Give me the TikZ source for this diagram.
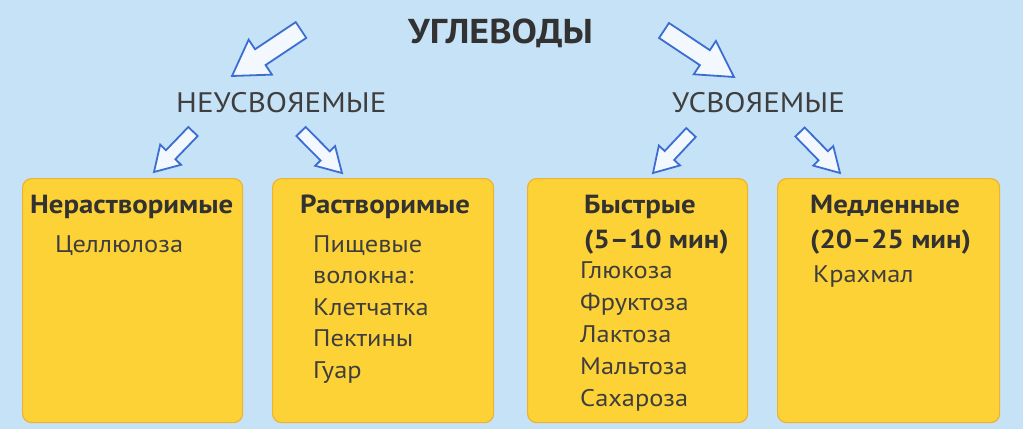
\documentclass[tikz,border=0pt]{standalone}
\usepackage{fontspec}
\setmainfont{PT Sans}[FakeStretch=1.1]
\usetikzlibrary{calc}
\definecolor{bgblue}{RGB}{198,226,247}
\definecolor{boxyel}{RGB}{253,210,55}
\definecolor{boxbrd}{RGB}{238,178,48}
\definecolor{arrblue}{RGB}{60,110,210}
\definecolor{arrfill}{RGB}{242,248,254}
\definecolor{txt}{RGB}{50,50,50}
\definecolor{txtl}{RGB}{62,62,62}
\newcommand\blockarrow[5]{%
  \coordinate (hb) at ($(#2)!#5!(#1)$);
  \draw[barrow] ($(#1)!#3!90:(#2)$) -- ($(hb)!#3!-90:(#1)$) -- ($(hb)!#4!-90:(#1)$) -- (#2)
     -- ($(hb)!#4!90:(#1)$) -- ($(hb)!#3!90:(#1)$) -- ($(#1)!#3!-90:(#2)$) -- cycle;}
\begin{document}
\begin{tikzpicture}[x=1pt,y=-1pt,
  barrow/.style={draw=arrblue,line width=1.8pt,fill=arrfill,line join=miter},
  ybox/.style={draw=boxbrd,line width=1.2pt,fill=boxyel,rounded corners=9pt,anchor=north west,minimum width=#1,minimum height=244pt,inner sep=0pt},
  ttl/.style={anchor=base west,inner sep=0pt,text=txt,font=\bfseries\fontsize{34.5}{40}\selectfont},
  sub/.style={anchor=base west,inner sep=0pt,text=txtl,font=\fontsize{28.2}{32}\selectfont},
  head/.style={anchor=base west,inner sep=0pt,text=txt,font=\bfseries\fontsize{26.2}{30}\selectfont},
  body/.style={anchor=base west,inner sep=0pt,text=txtl,font=\fontsize{24}{28}\selectfont}]
\useasboundingbox (0,0) rectangle (1023,429);
\fill[bgblue] (0,0) rectangle (1023,429);
% titles
\node[ttl] (title) at (408,43) {УГЛЕВОДЫ};
\node[sub] (neusv) at (176,112) {НЕУСВОЯЕМЫЕ};
\node[sub] (usv) at (672,112) {УСВОЯЕМЫЕ};
% boxes
\node[ybox=220pt] (box1) at (22,178) {};
\node[ybox=221pt] (box2) at (272,178) {};
\node[ybox=220pt] (box3) at (527,178) {};
\node[ybox=222pt] (box4) at (777,178) {};
% arrows
\coordinate (t1) at (301,30);  \coordinate (p1) at (232,76);
\coordinate (t2) at (664,30.5);\coordinate (p2) at (734,77);
\coordinate (t3) at (193,131.5);\coordinate (p3) at (154,172);
\coordinate (t4) at (301,131.5);\coordinate (p4) at (342,173);
\coordinate (t5) at (691,132.5);\coordinate (p5) at (653,173);
\coordinate (t6) at (800,132);\coordinate (p6) at (840,173);
\blockarrow{t1}{p1}{9.5pt}{21pt}{34pt}
\blockarrow{t2}{p2}{9pt}{20pt}{35pt}
\blockarrow{t3}{p3}{6.5pt}{14.5pt}{24pt}
\blockarrow{t4}{p4}{6.5pt}{14pt}{24pt}
\blockarrow{t5}{p5}{6.5pt}{14.5pt}{24pt}
\blockarrow{t6}{p6}{6.5pt}{14pt}{24pt}
% box 1
\node[head] (h1) at (30,213) {Нерастворимые};
\node[body] (b1a) at (55,252) {Целлюлоза};
% box 2
\node[head] (h2) at (300,213) {Растворимые};
\node[body] (b2a) at (313,252) {Пищевые};
\node[body] (b2b) at (313,283.5) {волокна:};
\node[body] (b2c) at (313,315) {Клетчатка};
\node[body] (b2d) at (313,346.5) {Пектины};
\node[body] (b2e) at (313,378) {Гуар};
% box 3
\node[head] (h3) at (584,213) {Быстрые};
\node[head] (h3b) at (584,248) {(5–10 мин)};
\node[body] (b3a) at (580,278) {Глюкоза};
\node[body] (b3b) at (580,310) {Фруктоза};
\node[body] (b3c) at (580,342) {Лактоза};
\node[body] (b3d) at (580,374) {Мальтоза};
\node[body] (b3e) at (580,406) {Сахароза};
% box 4
\node[head] (h4) at (810,213) {Медленные};
\node[head] (h4b) at (810,248) {(20–25 мин)};
\node[body] (b4a) at (813,282) {Крахмал};
\end{tikzpicture}
\end{document}
